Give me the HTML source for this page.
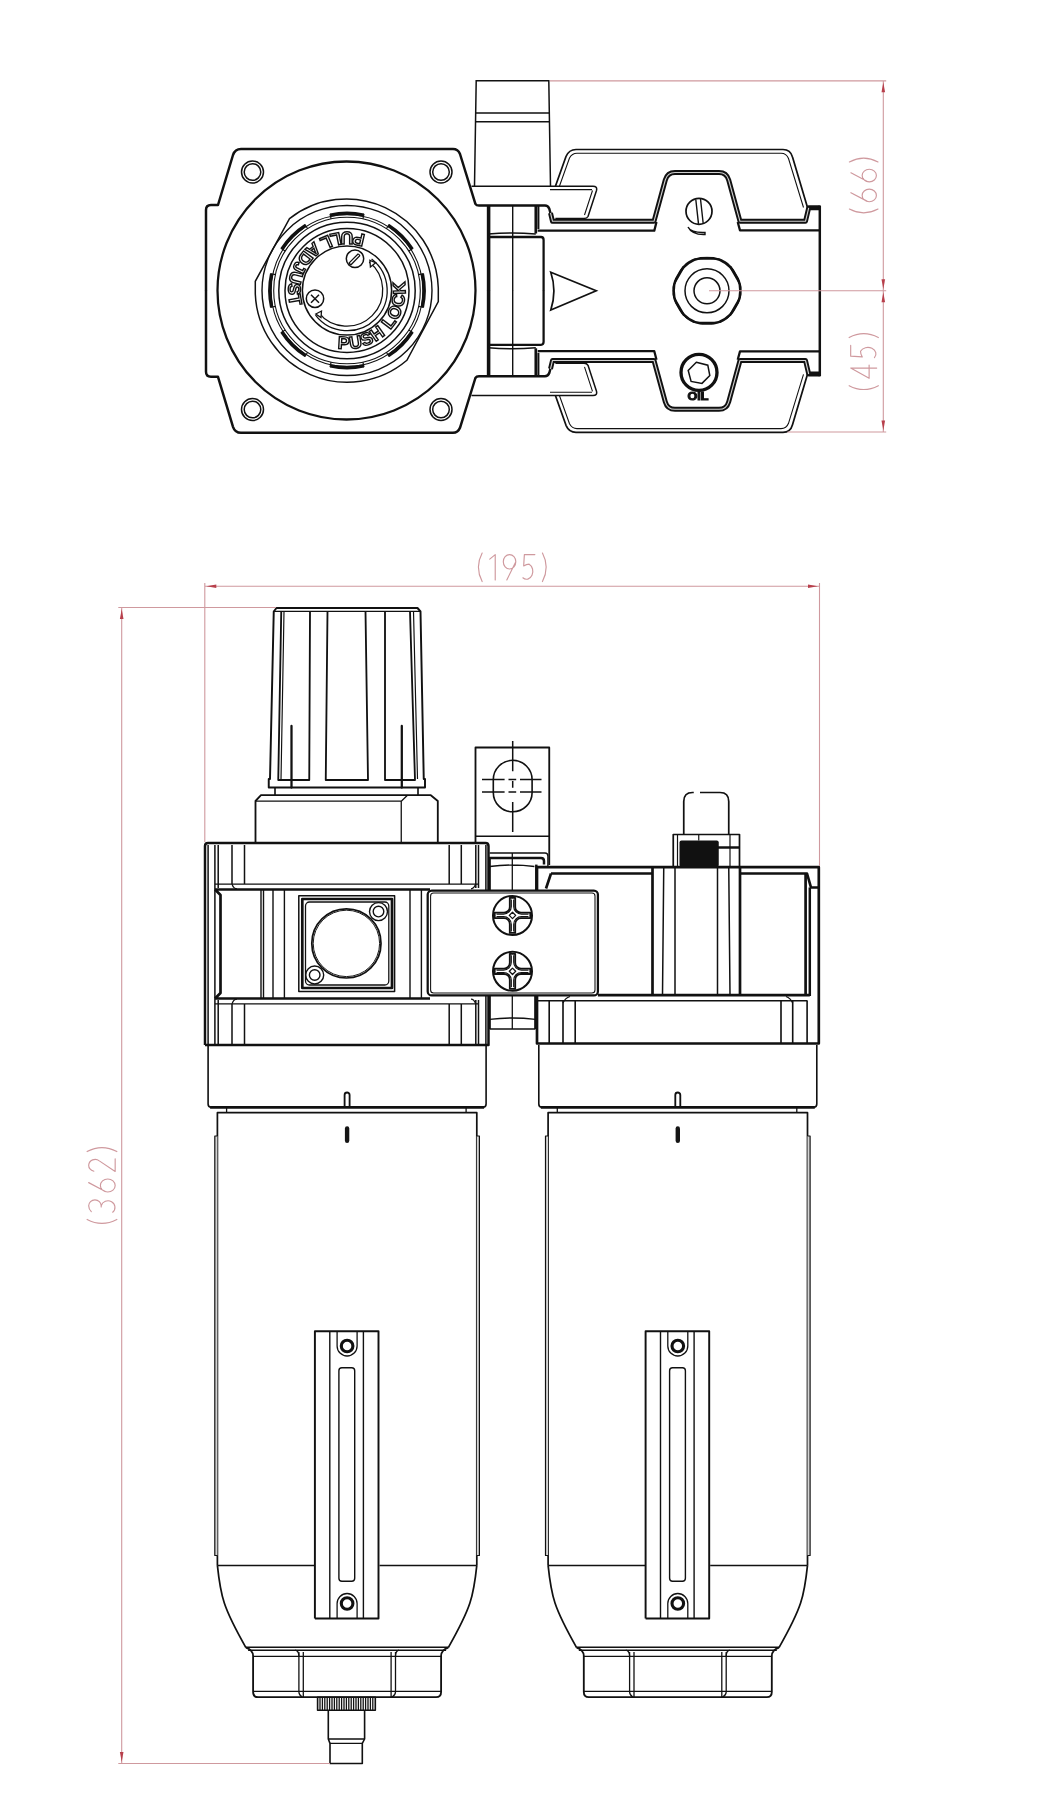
<!DOCTYPE html>
<html><head><meta charset="utf-8">
<style>
html,body{margin:0;padding:0;background:#fff;width:1040px;height:1804px;overflow:hidden}
svg{display:block;will-change:transform}
</style></head><body>
<svg width="1040" height="1804" viewBox="0 0 1040 1804">
<defs>
<g id="tophalf" fill="none" stroke="#111" stroke-linejoin="round">
  <path stroke-width="2.48" d="M206,291 V210 Q206,205 211,205 H218 L233,155 Q235,149 241,149 H453 Q458,149 460,154 L475.4,203.8 Q476.5,205.6 479,205.6 H545 Q548,205.6 549.3,208.8 L552,219"/>
  <path stroke-width="3.56" d="M488.6,205.6 V291"/>
  <path stroke-width="2.69" d="M535.8,205.6 V233.5"/>
  <path stroke-width="2.04" d="M538.4,205.6 V229"/>
  <path stroke-width="1.40" d="M512.7,205.6 V291"/>
  <path stroke-width="1.40" d="M488.2,234 Q512,232 535.8,234"/>
  <path stroke-width="2.26" d="M488.2,237 H541 Q543.6,237 543.6,240 V291"/>
  <path stroke-width="1.50" d="M471.5,186.2 H593 Q597.5,186.2 596.5,190.5 L588,216.5 Q587,218.5 584,218.5 H555.4"/>
  <path stroke-width="1.07" d="M550,189.6 H592 M592.5,190.5 L584.5,215"/>
  <path stroke-width="4.96" d="M550.5,213 L552.5,221.3 H654 L665.3,180 Q667.4,172.5 675,172.5 H719 Q726.6,172.5 728.7,180 L740,221.3 H805.5 L808.7,207.8 H819.8"/>
  <path stroke-width="1.1" stroke="#d0d0d0" d="M550.5,213 L552.5,221.3 H654 L665.3,180 Q667.4,172.5 675,172.5 H719 Q726.6,172.5 728.7,180 L740,221.3 H805.5 L808.7,207.8"/>
  <path stroke-width="2.26" d="M537.7,230.6 H654.3 L656.5,222 M737.7,222 L740,230.4 H819.8"/>
  <path stroke-width="1.72" d="M555.5,186 L566,156.5 Q569,149.5 576,149.5 H783 Q790.5,149.5 792.5,157 L807.5,207.5"/>
  <path stroke-width="1.07" d="M559.5,186 L569.5,158 Q572,153.2 577,153.2 H781 Q786.5,153.2 788.5,158.5 L803.5,207.5"/>
  <path stroke-width="2.48" d="M819.8,205.5 V291"/>
</g>
<clipPath id="hexclip"><circle cx="707" cy="290.8" r="34.6"/></clipPath><clipPath id="hexclip2"><polygon points="744.5,290.8 725.75,323.3 688.25,323.3 669.5,290.8 688.25,258.3 725.75,258.3"/></clipPath>
<path id="knobtxt" d="M-10.2,57.6 A58.5,58.5 0 1 0 -20,55" />
</defs>
<use href="#tophalf"/>
<use href="#tophalf" transform="matrix(1,0,0,-1,0,581.8)"/>
<g fill="none" stroke="#111">
  <path stroke-width="1.50" d="M474.5,186 L476.2,80.8 H548.8 L550.5,186"/>
  <path stroke-width="1.40" d="M476,113 H549 M475.8,121.8 H549.2"/>
  <g stroke-width="1.50">
    <circle cx="252.5" cy="172" r="11"/><circle cx="252.5" cy="172" r="8.3"/>
    <circle cx="441" cy="172" r="11"/><circle cx="441" cy="172" r="8.3"/>
    <circle cx="252.5" cy="409.5" r="11"/><circle cx="252.5" cy="409.5" r="8.3"/>
    <circle cx="441" cy="409.5" r="11"/><circle cx="441" cy="409.5" r="8.3"/>
  </g>
  <circle cx="346.5" cy="290.5" r="129" stroke-width="2.26"/>
  <!-- arrow triangle -->
  <path stroke-width="1.72" d="M550.8,272.3 L596.2,290.8 L550.8,310 Q557,290.8 550.8,272.3 Z"/>
</g>
<g transform="translate(347,290.5)" fill="none" stroke="#111"><path stroke-width="1.50" d="M-57.5,-71.9 L-91.7,-9.2 V3.5 A92,92 0 0 0 59.9,69.8 L91.3,11.1 V-2.5 A92,92 0 0 0 -57.5,-71.9 Z"/><circle r="85" stroke-width="1.40"/><circle r="75.8" stroke-width="1.07"/><circle r="73.3" stroke-width="1.07"/><circle r="68.2" stroke-width="1.50"/><circle r="62" stroke-width="1.50"/><circle r="44.6" stroke-width="1.50"/><path stroke-width="3.34" d="M-16.7,-75.4 A77.2,77.2 0 0 1 16.7,-75.4"/><path stroke-width="1.18" d="M-15.9,-71.6 L-17.0,-76.6"/><path stroke-width="1.18" d="M15.9,-71.6 L17.0,-76.6"/><path stroke-width="3.34" d="M41.5,-65.1 A77.2,77.2 0 0 1 65.1,-41.5"/><path stroke-width="1.18" d="M39.4,-61.8 L42.2,-66.2"/><path stroke-width="1.18" d="M61.8,-39.4 L66.2,-42.2"/><path stroke-width="3.34" d="M75.4,-16.7 A77.2,77.2 0 0 1 75.4,16.7"/><path stroke-width="1.18" d="M71.6,-15.9 L76.6,-17.0"/><path stroke-width="1.18" d="M71.6,15.9 L76.6,17.0"/><path stroke-width="3.34" d="M65.1,41.5 A77.2,77.2 0 0 1 41.5,65.1"/><path stroke-width="1.18" d="M61.8,39.4 L66.2,42.2"/><path stroke-width="1.18" d="M39.4,61.8 L42.2,66.2"/><path stroke-width="3.34" d="M16.7,75.4 A77.2,77.2 0 0 1 -16.7,75.4"/><path stroke-width="1.18" d="M15.9,71.6 L17.0,76.6"/><path stroke-width="1.18" d="M-15.9,71.6 L-17.0,76.6"/><path stroke-width="3.34" d="M-41.5,65.1 A77.2,77.2 0 0 1 -65.1,41.5"/><path stroke-width="1.18" d="M-39.4,61.8 L-42.2,66.2"/><path stroke-width="1.18" d="M-61.8,39.4 L-66.2,42.2"/><path stroke-width="3.34" d="M-75.4,16.7 A77.2,77.2 0 0 1 -75.4,-16.7"/><path stroke-width="1.18" d="M-71.6,15.9 L-76.6,17.0"/><path stroke-width="1.18" d="M-71.6,-15.9 L-76.6,-17.0"/><path stroke-width="3.34" d="M-65.1,-41.5 A77.2,77.2 0 0 1 -41.5,-65.1"/><path stroke-width="1.18" d="M-61.8,-39.4 L-66.2,-42.2"/><path stroke-width="1.18" d="M-39.4,-61.8 L-42.2,-66.2"/><path stroke-width="1.29" d="M22.2,-28.4 A36,36 0 1 1 -28.4,22.2"/><path stroke-width="1.29" d="M24.6,-31.5 A40,40 0 1 1 -31.5,24.6"/><path stroke-width="1.29" fill="#fff" d="M22.9,-30.2 L28.7,-27.8 L23.4,-23.5 Z"/><path stroke-width="1.29" fill="#fff" d="M-31.2,23.5 L-25.5,20.5 L-26,27 Z"/><circle cx="8" cy="-31.7" r="8.7" stroke-width="1.50"/><path stroke-width="1.29" d="M2.2,-27.6 L11,-36.5 Q13,-35.5 12.6,-34.6 L4,-25.8 Q2.3,-26 2.2,-27.6 Z"/><circle cx="-32" cy="8.2" r="8.7" stroke-width="1.50"/><path stroke-width="1.50" d="M-36,4.2 L-28,12.2 M-28,4.2 L-36,12.2"/></g><g transform="translate(347,290.5)" font-family="Liberation Sans, sans-serif" font-weight="bold" font-size="17.5" fill="#fff" stroke="#111" stroke-width="1.45" style="text-rendering:geometricPrecision;opacity:0.995"><text><textPath href="#knobtxt" startOffset="1" textLength="109.5" lengthAdjust="spacing">PUSH LOCK</textPath></text><text><textPath href="#knobtxt" startOffset="174.6" textLength="126.5" lengthAdjust="spacing">PULL ADJUST</textPath></text></g><g fill="none" stroke="#111">
  <g clip-path="url(#hexclip)"><polygon stroke-width="2.91" points="744.5,290.8 725.75,323.3 688.25,323.3 669.5,290.8 688.25,258.3 725.75,258.3"/>
</g><circle clip-path="url(#hexclip2)" cx="707" cy="290.8" r="33.4" stroke-width="2.69"/>
  <circle cx="707" cy="290.8" r="22" stroke-width="1.50"/>
  <circle cx="707" cy="290.8" r="13" stroke-width="1.50"/>
  <circle cx="699" cy="211.3" r="13" stroke-width="1.72"/>
  <path stroke-width="1.40" d="M695.8,199.5 L698.5,223.8 M700.5,199 L703.2,223.5"/>
  <path stroke-width="1.40" d="M688,227 Q691,233 705,232.5 L705,234.5 Q692,235 688,227 Z"/>
  <circle cx="699" cy="372.4" r="18" stroke-width="3.34"/>
  <polygon stroke-width="1.50" points="696.3,362.3 707.8,365.2 709.8,375.6 702,383.4 691.1,381.4 688.2,370.4"/>
</g>
<text style="opacity:0.995" x="698" y="400.4" font-family="Liberation Sans, sans-serif" font-weight="bold" font-size="10.5" text-anchor="middle" fill="#111" stroke="#111" stroke-width="0.96" textLength="21" lengthAdjust="spacingAndGlyphs">OIL</text>
<defs><g id="unit" fill="none" stroke="#111" stroke-linejoin="round"><path stroke-width="1.61" d="M-139,1045 V1104 Q-139,1107.3 -136,1107.3 H136 Q139,1107.3 139,1104 V1045"/><path stroke-width="2.69" d="M-137,1107.3 H137"/><path stroke-width="1.83" d="M-2.5,1107 V1095 A2.5,2.5 0 0 1 2.5,1095 V1107"/><path stroke-width="1.29" d="M-120.5,1107.3 V1112.7 M119,1107.3 V1112.7"/><path stroke-width="1.72" d="M-129.7,1565.4 V1112.7 H129.7 V1565.4"/><path stroke-width="1.18" fill="#d4d4d4" d="M-129.7,1136 H-132.3 V1555.5 H-129.7 M129.7,1136 H132.3 V1555.5 H129.7"/><rect x="-2.2" y="1126.3" width="4.4" height="16.6" rx="2.2" fill="#151515" stroke="none"/><path stroke-width="1.50" d="M-129.7,1565.4 H-32.4 M32.4,1565.4 H129.7"/><path stroke-width="1.72" d="M-129.7,1565.4 C-126.45,1596.5 -124.04,1607.3 -101.2,1647.6 M129.7,1565.4 C126.45,1596.5 124.04,1607.3 101.2,1647.6"/><path stroke-width="1.94" d="M-32.2,1618.5 V1331.2 H31.4 V1618.5 H-32.2"/><path stroke-width="1.40" d="M-17.3,1331.2 V1618.5 M16.3,1331.2 V1618.5"/><rect x="-8.2" y="1367.8" width="15.8" height="213.4" rx="3" stroke-width="1.40"/><path stroke-width="1.29" d="M-10,1331.2 V1346 A10,10 0 0 0 10,1346 V1331.2"/><path stroke-width="1.29" d="M-10,1618.5 V1603.5 A10,10 0 0 1 10,1603.5 V1618.5"/><circle cx="0" cy="1346" r="5.8" stroke-width="3.12"/><circle cx="0" cy="1603.5" r="5.8" stroke-width="3.12"/><path stroke-width="1.50" d="M-101.2,1647.3 H101.2 M-99,1650.2 H99"/><path stroke-width="1.83" d="M-101.2,1647.6 Q-94,1650 -94,1656 V1692 Q-94,1697.2 -89,1697.2 H89 Q94,1697.2 94,1692 V1656 Q94,1650 101.2,1647.6"/><path stroke-width="1.29" d="M-94,1656.3 H94 M-94,1691.4 H94 M-48.2,1652 V1692 Q-48.2,1695 -45,1697 M-43.8,1652 V1697 M44,1652 V1697 M48.4,1652 V1692 Q48.4,1695 45,1697"/><path stroke-width="1.29" d="M-52,1650.2 Q-48.2,1651 -48.2,1656 M52,1650.2 Q48.4,1651 48.4,1656"/></g></defs><use href="#unit" transform="translate(347.1,0)"/><use href="#unit" transform="translate(677.8,0)"/><g fill="none" stroke="#111" stroke-linejoin="round"><rect x="317.6" y="1697.2" width="57.7" height="13" stroke-width="1.61"/><path stroke-width="1.29" d="M320.0,1697.5 V1710M322.4,1697.5 V1710M324.8,1697.5 V1710M327.2,1697.5 V1710M329.6,1697.5 V1710M332.0,1697.5 V1710M334.4,1697.5 V1710M336.8,1697.5 V1710M339.2,1697.5 V1710M341.6,1697.5 V1710M344.0,1697.5 V1710M346.4,1697.5 V1710M348.8,1697.5 V1710M351.2,1697.5 V1710M353.6,1697.5 V1710M356.0,1697.5 V1710M358.4,1697.5 V1710M360.8,1697.5 V1710M363.2,1697.5 V1710M365.6,1697.5 V1710M368.0,1697.5 V1710M370.4,1697.5 V1710M372.8,1697.5 V1710"/><path stroke-width="1.61" d="M328.3,1710.2 V1739 L330,1743.4 V1763.5 H362.3 V1743.4 L364.6,1739 V1710.2"/><path stroke-width="1.29" d="M328.5,1739 H364.4 M330,1743.4 H362.3"/><path stroke-width="1.94" d="M268.75,787.5 V779 H270 L273.75,611.5 L276.5,608 H417.5 L420.5,611.5 L423.75,779 H425 V787.5 Z"/><path stroke-width="1.29" d="M273.75,611.3 H420.5"/><path stroke-width="1.61" d="M275,787.5 V795 M418,787.5 V795"/><path stroke-width="1.83" d="M281.25,611.3 L278.25,780 H309.25 L310,611.3 M327.5,611.3 L325.75,780 H368 L365.5,611.3 M385,611.3 V780 H415 L410,611.3"/><path stroke-width="1.18" d="M284,611.3 L281,780 M413.5,611.3 L417.5,779"/><path stroke-width="2.26" stroke-linecap="round" d="M291.5,726 V787.5 M401.8,726 V787.5"/><path stroke-width="1.83" d="M255.5,842.5 V801 L261,795.2 H430.8 L437.8,801 V842.5"/><path stroke-width="1.29" d="M255.5,801.2 H401.25 L407.5,795.2 M401.25,801.2 V842.5"/><path stroke-width="2.48" d="M205,1045 V846 Q205,843 208,843 H485.5 Q488.5,843 488.5,846 V1045 H205"/><path stroke-width="1.50" d="M208.1,845 V1045 M214.9,845 V1045 M485.9,845 V1045 M475.8,845 V888 M478.5,845 V888 M475.8,1000 V1045 M478.5,1000 V1045"/><path stroke-width="1.50" d="M218.2,845 V888 M232,845 V884 M244.5,845 V884 M449.2,845 V884 M461.3,845 V884"/><path stroke-width="1.50" d="M218.2,1000 V1045 M232,1004 V1045 M244.5,1004 V1045 M449.2,1004 V1045 M461.3,1004 V1045"/><path stroke-width="1.40" d="M215,884.1 H479 M215,1003.9 H479"/><path stroke-width="2.69" d="M215,889.5 H430 M215,998.5 H430 M215,889.5 L220.5,895 V993 L215,998.5"/><path stroke-width="1.29" d="M232,884.1 Q233.5,888.8 237,888.8 M232,1003.9 Q233.5,999.2 237,999.2 M475.8,884.1 Q474,888.8 471,888.8 M475.8,1003.9 Q474,999.2 471,999.2"/><path stroke-width="1.40" d="M261,890 V998 M263.5,890 V998 M273,890 V998 M284.4,890 V998 M410,890 V998 M421.4,890 V998"/><rect x="298.8" y="895.8" width="95.8" height="95.7" stroke-width="1.50"/><rect x="302.3" y="899" width="89.7" height="89" stroke-width="2.69"/><rect x="305.5" y="902" width="83.3" height="83" rx="4" stroke-width="1.29"/><circle cx="346.4" cy="943.4" r="34.6" stroke-width="1.72"/><circle cx="346.4" cy="943.4" r="33.2" stroke-width="0.96"/><circle cx="378.5" cy="911.6" r="9" stroke-width="1.40"/><circle cx="378.5" cy="911.6" r="5.3" stroke-width="1.40"/><circle cx="314.7" cy="975" r="9" stroke-width="1.40"/><circle cx="314.7" cy="975" r="5.3" stroke-width="1.40"/><path stroke-width="2.48" d="M489.6,890 V857.9 H541 Q544,857.9 544,861 V864.6"/><path stroke-width="1.40" d="M489.6,853 H545 Q547.9,853 547.9,856 V866"/><path stroke-width="1.29" d="M512.3,853 V890 M512.3,995 V1029 M489.6,866.5 Q512,863.5 534.4,866.5"/><path stroke-width="2.48" d="M536.3,864.6 V890"/><path stroke-width="2.48" d="M489.6,995 V1029 M535.4,995 V1029"/><path stroke-width="1.40" d="M489.6,1019.4 Q512,1016.5 535.4,1019.4 M489.6,1029 H535.4"/><path stroke-width="1.83" d="M475.5,843 V747.5 H549.25 V865"/><path stroke-width="1.40" d="M475.5,836.25 H549.25"/><rect x="493.3" y="760.3" width="38.8" height="51.5" rx="19.4" stroke-width="1.61"/><path stroke-width="1.50" d="M512.7,741 V771.3 M512.7,781 V787.7 M512.7,802 V832 M482,779.4 H504.6 M508.5,779.4 H516.2 M520,779.4 H541.5 M482,791.9 H504.6 M508.5,791.9 H516.2 M520,791.9 H541.5"/><path stroke-width="2.69" d="M537,1043.5 V867.2 H818.8 V1043.5 Z"/><path stroke-width="2.69" d="M551,873.5 H652.5 M740,873.5 H807 L811,887.5 H818 M551,873.5 L546,888.5"/><path stroke-width="2.69" d="M805.6,873.5 V996 M597.9,995.2 H809.8"/><path stroke-width="2.48" d="M809.8,887.5 V996"/><path stroke-width="1.50" d="M547,890 V995"/><path stroke-width="1.50" d="M537,1000.8 H807.6"/><path stroke-width="2.69" d="M652.5,867 V995 M740,867 V995"/><path stroke-width="1.50" d="M663.75,867 L662.5,995 M675,867 V995 M717.5,867 V995 M728.75,867 L730,995"/><path stroke-width="1.61" d="M549.2,1001 V1043 M563,1001 V1043 M575.2,1001 V1043 M781,1001 V1043 M792.7,1001 V1043 M807.1,1001 V1043"/><path stroke-width="1.29" d="M563,1003 Q565,998 570,996.5 M792.7,1003 Q790.5,998 786,996.5"/><path stroke-width="1.72" d="M673.25,867 V834.5 H739.5 V867"/><path stroke-width="2.48" d="M717.5,847.5 H739.5"/><path stroke-width="1.18" d="M677.5,834.5 V867 M698.75,834.5 V840.5 M730,834.5 V867"/><rect x="679.5" y="840.5" width="39.25" height="26.5" rx="2" fill="#111" stroke="none"/><path stroke-width="1.72" d="M683.75,834.5 V801.5 Q683.75,792.5 692.5,792.5 H693.75 M700,792.5 H720 Q728.75,792.5 728.75,801.5 V834.5"/><rect x="427.7" y="890.6" width="170.2" height="104.8" rx="4" fill="#fff" stroke-width="2.26"/><rect x="430.6" y="893" width="164.4" height="100" rx="3" stroke-width="1.07"/><circle cx="512.5" cy="915.4" r="19.5" stroke-width="2.04"/><g transform="translate(512.5,915.4)"><path stroke-width="1.83" d="M-2.7,-17.5 V-8.5 A5.8,5.8 0 0 1 -8.5,-2.7 H-17.8 V2.7 H-8.5 A5.8,5.8 0 0 1 -2.7,8.5 V17.5 H2.7 V8.5 A5.8,5.8 0 0 1 8.5,2.7 H17.8 V-2.7 H8.5 A5.8,5.8 0 0 1 2.7,-8.5 V-17.5 Z"/><path stroke-width="1.18" d="M-1.2,-16 V-9 A7.8,7.8 0 0 1 -9,-1.2 H-16 M1.2,-16 V-9 A7.8,7.8 0 0 0 9,-1.2 H16 M-1.2,16 V9 A7.8,7.8 0 0 0 -9,1.2 H-16 M1.2,16 V9 A7.8,7.8 0 0 1 9,1.2 H16"/><path stroke-width="1.29" d="M0,-3.2 L3.2,0 L0,3.2 L-3.2,0 Z"/></g><circle cx="512.5" cy="971.3" r="19.5" stroke-width="2.04"/><g transform="translate(512.5,971.3)"><path stroke-width="1.83" d="M-2.7,-17.5 V-8.5 A5.8,5.8 0 0 1 -8.5,-2.7 H-17.8 V2.7 H-8.5 A5.8,5.8 0 0 1 -2.7,8.5 V17.5 H2.7 V8.5 A5.8,5.8 0 0 1 8.5,2.7 H17.8 V-2.7 H8.5 A5.8,5.8 0 0 1 2.7,-8.5 V-17.5 Z"/><path stroke-width="1.18" d="M-1.2,-16 V-9 A7.8,7.8 0 0 1 -9,-1.2 H-16 M1.2,-16 V-9 A7.8,7.8 0 0 0 9,-1.2 H16 M-1.2,16 V9 A7.8,7.8 0 0 0 -9,1.2 H-16 M1.2,16 V9 A7.8,7.8 0 0 1 9,1.2 H16"/><path stroke-width="1.29" d="M0,-3.2 L3.2,0 L0,3.2 L-3.2,0 Z"/></g></g><g stroke="#cf999e" stroke-width="1.1" fill="none"><path d="M550,80.9 H886.2 M883.3,80.9 V432 M709,290.8 H886.2 M787.5,432 H886.2"/><path d="M204.8,583 V842 M204.8,586.3 H819.5 M819.5,583 V866 M118.3,607.5 H276 M121.7,607.5 V1763.5 M118.3,1763.5 H330"/></g><polygon fill="#b8404c" points="883.3,82.3 881.5,92.3 885.1,92.3"/><polygon fill="#b8404c" points="883.3,289.3 881.5,279.3 885.1,279.3"/><polygon fill="#b8404c" points="883.3,292.3 881.5,302.3 885.1,302.3"/><polygon fill="#b8404c" points="883.3,430.5 881.5,420.5 885.1,420.5"/><polygon fill="#b8404c" points="206.3,586.3 216.3,584.5 216.3,588.1"/><polygon fill="#b8404c" points="818.0,586.3 808.0,584.5 808.0,588.1"/><polygon fill="#b8404c" points="121.7,609.0 119.9,619.0 123.5,619.0"/><polygon fill="#b8404c" points="121.7,1762.0 119.9,1752.0 123.5,1752.0"/><g transform="translate(863.7,185.5) rotate(-90) scale(1.004)" fill="none" stroke="#cf999e" stroke-width="1.15" stroke-linecap="round" stroke-linejoin="round"><path transform="translate(-29.50,-12.75)" d="M6,-1.5 Q-1.5,12.7 6,27"/><path transform="translate(-16.17,-12.75)" d="M9,0 L0.6,16 M12.5,18.3 A6.25,7.1 0 1 1 0,18.3 A6.25,7.1 0 1 1 12.5,18.3"/><path transform="translate(3.67,-12.75)" d="M9,0 L0.6,16 M12.5,18.3 A6.25,7.1 0 1 1 0,18.3 A6.25,7.1 0 1 1 12.5,18.3"/><path transform="translate(23.50,-12.75)" d="M0,-1.5 Q7.5,12.7 0,27"/></g><g transform="translate(864,361.6) rotate(-90) scale(1.024)" fill="none" stroke="#cf999e" stroke-width="1.12" stroke-linecap="round" stroke-linejoin="round"><path transform="translate(-29.50,-13.00)" d="M6,-1.5 Q-1.5,12.7 6,27"/><path transform="translate(-16.33,-13.00)" d="M10,25.4 V0 L0,18 H13"/><path transform="translate(3.83,-13.00)" d="M12,0 H1.5 L0.8,11.3 Q3.5,9.6 6.3,9.6 A6.3,7.9 0 1 1 0,23.2"/><path transform="translate(23.50,-13.00)" d="M0,-1.5 Q7.5,12.7 0,27"/></g><g transform="translate(512.3,567.3) rotate(0) scale(1.000)" fill="none" stroke="#cf999e" stroke-width="1.15" stroke-linecap="round" stroke-linejoin="round"><path transform="translate(-36.15,-12.70)" d="M6,-1.5 Q-1.5,12.7 6,27"/><path transform="translate(-23.07,-12.70)" d="M0.5,4.5 L6,0 V25.4"/><path transform="translate(-9.00,-12.70)" d="M12.5,7.2 A6.25,7.2 0 1 1 0,7.2 A6.25,7.2 0 1 1 12.5,7.2 L3.5,25.4"/><path transform="translate(10.57,-12.70)" d="M12,0 H1.5 L0.8,11.3 Q3.5,9.6 6.3,9.6 A6.3,7.9 0 1 1 0,23.2"/><path transform="translate(30.15,-12.70)" d="M0,-1.5 Q7.5,12.7 0,27"/></g><g transform="translate(102.5,1185.5) rotate(-90) scale(1.043)" fill="none" stroke="#cf999e" stroke-width="1.10" stroke-linecap="round" stroke-linejoin="round"><path transform="translate(-38.50,-13.25)" d="M6,-1.5 Q-1.5,12.7 6,27"/><path transform="translate(-25.62,-13.25)" d="M0.5,2.5 Q3,0 6.2,0 A5.6,6 0 0 1 6.2,12 H5 M6.2,12 A6.3,6.7 0 1 1 0,23"/><path transform="translate(-6.25,-13.25)" d="M9,0 L0.6,16 M12.5,18.3 A6.25,7.1 0 1 1 0,18.3 A6.25,7.1 0 1 1 12.5,18.3"/><path transform="translate(13.12,-13.25)" d="M0.6,5 Q2,0 6.3,0 A6,6.2 0 0 1 10.5,10.2 L0.3,25.4 H12.5"/><path transform="translate(32.50,-13.25)" d="M0,-1.5 Q7.5,12.7 0,27"/></g></svg>
</body></html>
